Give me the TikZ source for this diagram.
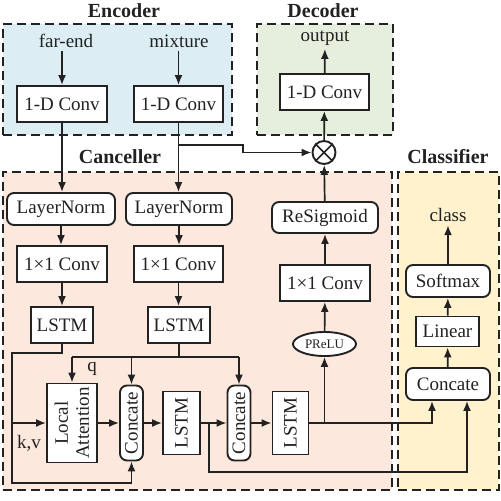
\documentclass[tikz,border=0pt]{standalone}
\usepackage{fontspec}
\setmainfont{Liberation Serif}
\usetikzlibrary{arrows.meta,shapes.geometric}
\definecolor{encfill}{HTML}{DCEDF3}
\definecolor{decfill}{HTML}{E6EFDE}
\definecolor{canfill}{HTML}{FCE8DC}
\definecolor{clsfill}{HTML}{FFF2CD}
\definecolor{ink}{HTML}{222222}
\begin{document}
\begin{tikzpicture}[x=1pt,y=-1pt,
  font=\fontsize{19}{21}\selectfont,
  every node/.style={text=ink},
  group/.style={draw=ink, line width=2.2pt, dash pattern=on 9pt off 5pt, inner sep=0pt},
  sqbox/.style={draw=ink, fill=white, line width=1.9pt, inner sep=0pt},
  rbox/.style={sqbox, rounded corners=7pt},
  title/.style={font=\fontsize{20}{22}\selectfont\bfseries},
  conn/.style={draw=ink, line width=1.7pt},
  arr/.style={conn, -{Latex[length=10pt,width=8pt]}},
]
\useasboundingbox (0,0) rectangle (501,501);

% group boxes
\node[group, fill=encfill, minimum width=229pt, minimum height=111pt] (enc) at (117.5,79.5) {};
\node[group, fill=decfill, minimum width=136pt, minimum height=111pt] (dec) at (325,79.5) {};
\node[group, fill=canfill, minimum width=389pt, minimum height=318pt] (can) at (197.5,331) {};
\node[group, fill=clsfill, minimum width=101pt, minimum height=318pt] (cls) at (448.5,331) {};

% titles
\node[title] (tenc) at (124,11) {Encoder};
\node[title] (tdec) at (323,11) {Decoder};
\node[title] (tcan) at (120,157) {Canceller};
\node[title] (tcls) at (448,157) {Classifier};

% encoder
\node (farend) at (66,41) {far-end};
\node (mixture) at (179,41) {mixture};
\node[sqbox, minimum width=90pt, minimum height=36pt] (enc1) at (62,104) {1-D Conv};
\node[sqbox, minimum width=89pt, minimum height=36pt] (enc2) at (178.5,104) {1-D Conv};

% decoder
\node (output) at (325,38) {output};
\node[sqbox, minimum width=89pt, minimum height=36pt] (decconv) at (324.5,92) {1-D Conv};
\node[circle, draw=ink, fill=white, line width=1.9pt, minimum size=23pt, inner sep=0pt] (mul) at (324,152.5) {};
\draw[ink, line width=1.7pt] (mul.north west) -- (mul.south east) (mul.north east) -- (mul.south west);

% canceller
\node[rbox, minimum width=108pt, minimum height=32pt] (ln1) at (61,209) {LayerNorm};
\node[rbox, minimum width=106pt, minimum height=32pt] (ln2) at (179,209) {LayerNorm};
\node[sqbox, minimum width=90pt, minimum height=36pt] (cv1) at (62,264) {1×1 Conv};
\node[sqbox, minimum width=89pt, minimum height=36pt] (cv2) at (178.5,264) {1×1 Conv};
\node[sqbox, minimum width=62pt, minimum height=36pt] (ls1) at (62,325) {LSTM};
\node[sqbox, minimum width=62pt, minimum height=36pt] (ls2) at (179,325) {LSTM};
\node[sqbox, rotate=90, align=center, minimum width=79pt, minimum height=50pt] (la) at (72,423) {Local\\Attention};
\node[rbox, rotate=90, minimum width=75pt, minimum height=23pt] (cc1) at (131.5,423) {Concate};
\node[sqbox, rotate=90, minimum width=63pt, minimum height=37pt] (lm) at (181.5,423) {LSTM};
\node[rbox, rotate=90, minimum width=75pt, minimum height=23pt] (cc2) at (239,423) {Concate};
\node[sqbox, rotate=90, minimum width=63pt, minimum height=36pt] (lr) at (290.5,423) {LSTM};
\node[ellipse, draw=ink, fill=white, line width=1.9pt, minimum width=63pt, minimum height=24pt, inner sep=0pt, font=\fontsize{13}{15}\selectfont] (prelu) at (324.5,344) {PReLU};
\node[sqbox, minimum width=90pt, minimum height=36pt] (cvr) at (325,283) {1×1 Conv};
\node[rbox, minimum width=106pt, minimum height=31pt] (rs) at (325,217.5) {ReSigmoid};
\node (q) at (92,369) {q};
\node (kv) at (29,443) {k,v};

% classifier
\node (class) at (448,215) {class};
\node[rbox, minimum width=84pt, minimum height=32pt] (sm) at (448,281) {Softmax};
\node[sqbox, minimum width=63pt, minimum height=30pt] (lin) at (447.5,331.5) {Linear};
\node[rbox, minimum width=84pt, minimum height=32pt] (cc3) at (448,384) {Concate};

% helper coordinates
\coordinate (brA) at (178.5,145);
\coordinate (brB) at (243,145);
\coordinate (l1) at (62,353);
\coordinate (l2) at (12,353);
\coordinate (l3) at (12,483);
\coordinate (r1) at (179,357);
\coordinate (m1) at (209,423);
\coordinate (m2) at (209,472);
\coordinate (m3) at (467,472);
\coordinate (p1) at (324.5,423);
\coordinate (q1) at (432,423);

% encoder connectors
\draw[arr] (enc1.north |- farend.south) -- (enc1.north);
\draw[arr] (enc2.north |- mixture.south) -- (enc2.north);
\draw[arr] (enc1.south) -- (enc1.south |- ln1.north);
\draw[arr] (enc2.south) -- (enc2.south |- ln2.north);
\draw[arr] (brA) -- (brB) -- (brB |- mul) -- (mul.west);

% canceller connectors
\draw[arr] (ln1.south) -- (ln1.south |- cv1.north);
\draw[arr] (ln2.south) -- (ln2.south |- cv2.north);
\draw[arr] (cv1.south) -- (ls1.north);
\draw[arr] (cv2.south) -- (cv2.south |- ls2.north);
\draw[arr] (ls1.south) -- (l1) -- (l2) -- (l3) -- (cc1 |- l3) -- (cc1);
\draw[arr] (l2 |- la) -- (la);
\draw[conn] (ls2.south) -- (r1);
\draw[conn] (la |- r1) -- (cc2 |- r1);
\draw[arr] (la |- r1) -- (la);
\draw[arr] (cc1 |- r1) -- (cc1);
\draw[arr] (cc2 |- r1) -- (cc2);
\draw[arr] (la) -- (cc1);
\draw[arr] (cc1) -- (lm);
\draw[arr] (lm) -- (cc2);
\draw[arr] (cc2) -- (lr);
\draw[arr] (m1) -- (m2) -- (m3) -- (m3 |- cc3.south);
\draw[arr] (lr) -- (q1) -- (q1 |- cc3.south);
\draw[arr] (p1) -- (prelu);
\draw[arr] (prelu) -- (cvr);
\draw[arr] (cvr) -- (rs);
\draw[arr] (rs) -- (mul);
\draw[arr] (mul) -- (decconv);
\draw[arr] (decconv) -- (output);

% classifier connectors
\draw[arr] (cc3) -- (lin);
\draw[arr] (lin) -- (sm);
\draw[arr] (sm) -- (class);
\end{tikzpicture}
\end{document}
